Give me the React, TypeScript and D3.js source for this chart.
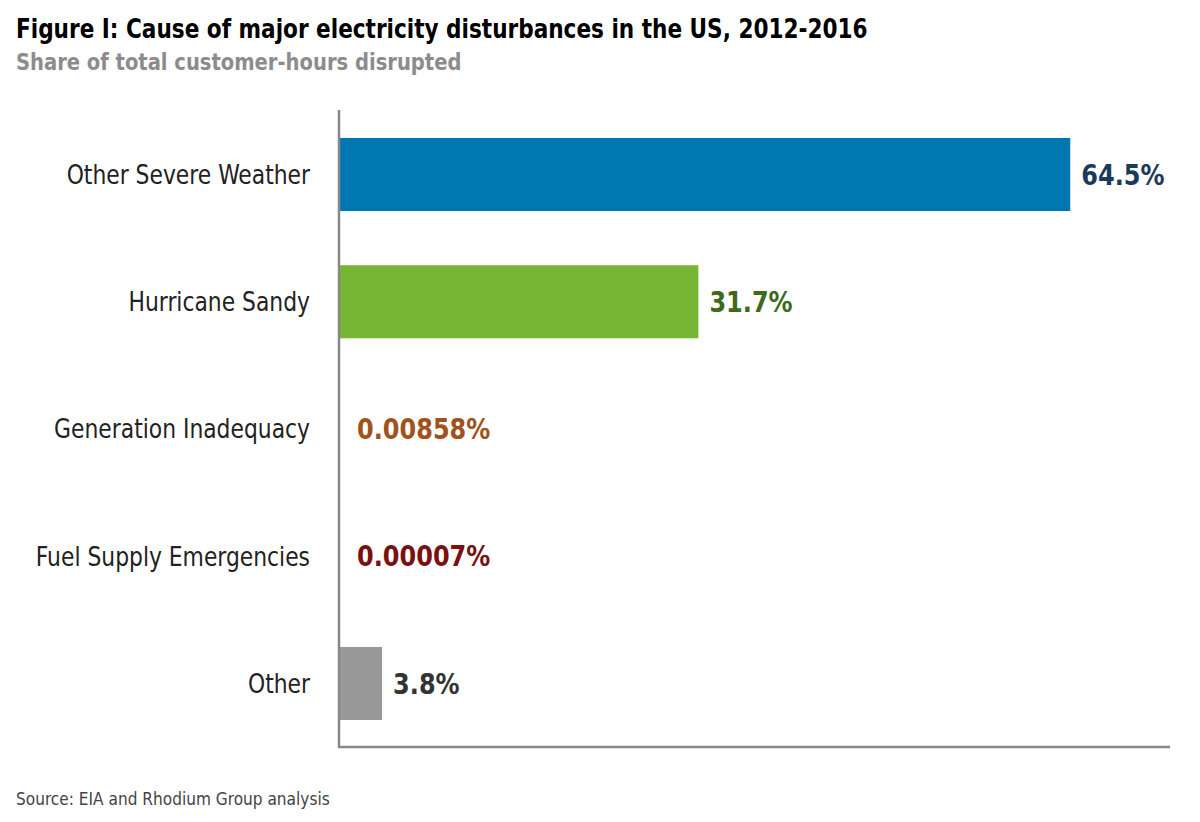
import React, { useEffect } from 'react'
import * as d3 from 'd3'

const categories = ['Other Severe Weather', 'Hurricane Sandy', 'Generation Inadequacy', 'Fuel Supply Emergencies', 'Other']
const values = [64.5, 31.7, 0.00858, 0.00007, 3.8]
const valueLabels = ['64.5%', '31.7%', '0.00858%', '0.00007%', '3.8%']
const barColors = ['#0077b0', '#77b634', '#a0521c', '#7a1010', '#999999']
const labelColors = ['#1c3a5c', '#3d6a1c', '#a0521c', '#7a1010', '#333333']

const W = 1200
const H = 822
const FONT = "'DejaVu Sans Condensed', 'Liberation Sans Narrow', sans-serif"

// no narrow font available, so squeeze the condensed one a bit more
function Narrow(props: { x: number; y: number; sx: number; anchor?: string; children: React.ReactNode } & React.SVGProps<SVGTextElement>) {
  const { x, y, sx, anchor, children, ...rest } = props
  return (
    <text transform={`translate(${x},${y}) scale(${sx},1)`} textAnchor={anchor} {...rest}>
      {children}
    </text>
  )
}

export default function App() {
  useEffect(() => {
    document.body.style.margin = '0'
  }, [])

  const left = 339
  const right = 1170
  const top = 110
  const bottom = 748

  const x = d3.scaleLinear().domain([0, 73.3]).range([left, right])
  const y = d3.scaleBand<string>().domain(categories).range([top, bottom])
    .paddingInner(0.426).paddingOuter(0.22)

  return (
    <svg width={W} height={H} style={{ display: 'block', background: '#fff' }} fontFamily={FONT}>
      <Narrow x={16} y={38} sx={0.924} fontSize={26} fontWeight="bold" fill="#000">
        Figure I: Cause of major electricity disturbances in the US, 2012-2016
      </Narrow>
      <Narrow x={16} y={70} sx={0.945} fontSize={23} fontWeight="bold" fill="#8c8c8c">
        Share of total customer-hours disrupted
      </Narrow>

      {categories.map((c, i) => (
        <g key={c}>
          <rect x={x(0)} y={y(c)!} width={x(values[i]) - x(0)} height={y.bandwidth()} fill={barColors[i]} />
          <Narrow x={310} y={y(c)! + y.bandwidth() / 2} sx={0.9} anchor="end" dy="0.35em" fontSize={27} fill="#222">
            {c}
          </Narrow>
          <Narrow x={Math.max(x(values[i]) + 11, left + 18)} y={y(c)! + y.bandwidth() / 2} sx={0.92} dy="0.35em"
            fontSize={29} fontWeight="bold" fill={labelColors[i]}>
            {valueLabels[i]}
          </Narrow>
        </g>
      ))}

      <line x1={left} x2={left} y1={top} y2={bottom} stroke="#888" strokeWidth={2.5} />
      <line x1={left - 1} x2={right} y1={bottom - 1} y2={bottom - 1} stroke="#888" strokeWidth={2.5} />

      <Narrow x={16} y={805} sx={0.95} fontSize={18} fill="#444">Source: EIA and Rhodium Group analysis</Narrow>
    </svg>
  )
}
